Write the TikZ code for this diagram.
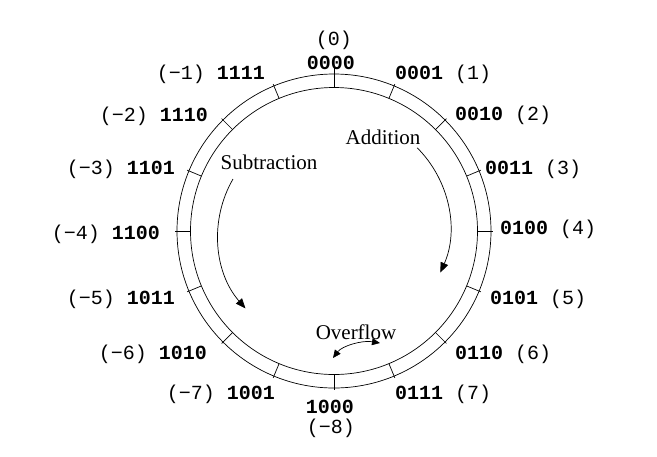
\documentclass[tikz,border=0pt]{standalone}
\usepackage{fontspec}
\setmainfont{Liberation Serif}
\newfontfamily\monof{Liberation Mono}
\usetikzlibrary{arrows.meta}
\tikzset{
  ring/.style={line width=0.7pt},
  tickmark/.style={line width=0.7pt},
  lbl/.style={inner sep=0pt, font=\monof\fontsize{20}{24}\selectfont},
  word/.style={inner sep=0pt, font=\fontsize{21}{25}\selectfont},
  flow/.style={line width=0.7pt, -{Triangle[length=10pt,width=8pt]}},
  smalltip/.style={line width=0.7pt, {Triangle[length=8pt,width=7pt]}-{Triangle[length=8pt,width=7pt]}},
}
\begin{document}
\begin{tikzpicture}[x=1pt,y=-1pt]
\useasboundingbox (0,0) rectangle (657,456);
\coordinate (O) at (334,231);
\draw[ring] (O) circle[radius=157];
\draw[ring] (O) circle[radius=143.5];
\foreach \k in {1,...,15}
  \draw[tickmark,shift={(O)}] (\k*22.5-90:143.5) -- (\k*22.5-90:159);
\draw[tickmark,shift={(O)}] (-90:143.5) -- (-90:164);
% top and bottom
\node[lbl] (n0) at (331,63) {\textbf{0000}};
\node[lbl] (v0) at (334,40) {(0)};
\node[lbl] (n8) at (330,407) {\textbf{1000}};
\node[lbl] (v8) at (331,428) {(−8)};
% right side
\node[lbl, anchor=base west] (n1) at (395,79) {\textbf{0001} (1)};
\node[lbl, anchor=base west] (n2) at (455,120) {\textbf{0010} (2)};
\node[lbl, anchor=base west] (n3) at (485,174) {\textbf{0011} (3)};
\node[lbl, anchor=base west] (n4) at (500,234) {\textbf{0100} (4)};
\node[lbl, anchor=base west] (n5) at (490,304) {\textbf{0101} (5)};
\node[lbl, anchor=base west] (n6) at (455,359) {\textbf{0110} (6)};
\node[lbl, anchor=base west] (n7) at (395,399) {\textbf{0111} (7)};
% left side
\node[lbl, anchor=base east] (n15) at (265,79) {(−1) \textbf{1111}};
\node[lbl, anchor=base east] (n14) at (208,121) {(−2) \textbf{1110}};
\node[lbl, anchor=base east] (n13) at (175,174) {(−3) \textbf{1101}};
\node[lbl, anchor=base east] (n12) at (160,239) {(−4) \textbf{1100}};
\node[lbl, anchor=base east] (n11) at (175,304) {(−5) \textbf{1011}};
\node[lbl, anchor=base east] (n10) at (207,359) {(−6) \textbf{1010}};
\node[lbl, anchor=base east] (n9) at (275,399) {(−7) \textbf{1001}};
% inner labels
\node[word] (add) at (383,137) {Addition};
\node[word] (sub) at (269,162) {Subtraction};
\node[word] (ovf) at (356,332) {Overflow};
% arrows
\coordinate (addC) at (338,227);
\coordinate (subC) at (330,235);
\draw[flow,shift={(addC)}] (-45:112) arc[start angle=-45, end angle=24, radius=112];
\draw[flow,shift={(subC)}] (210:112) arc[start angle=210, end angle=139, radius=112];
\coordinate (ovL) at (333,358);
\coordinate (ovR) at (380,343);
\draw[smalltip] (ovL) .. controls (342,346) and (362,340) .. (ovR);
\end{tikzpicture}
\end{document}
